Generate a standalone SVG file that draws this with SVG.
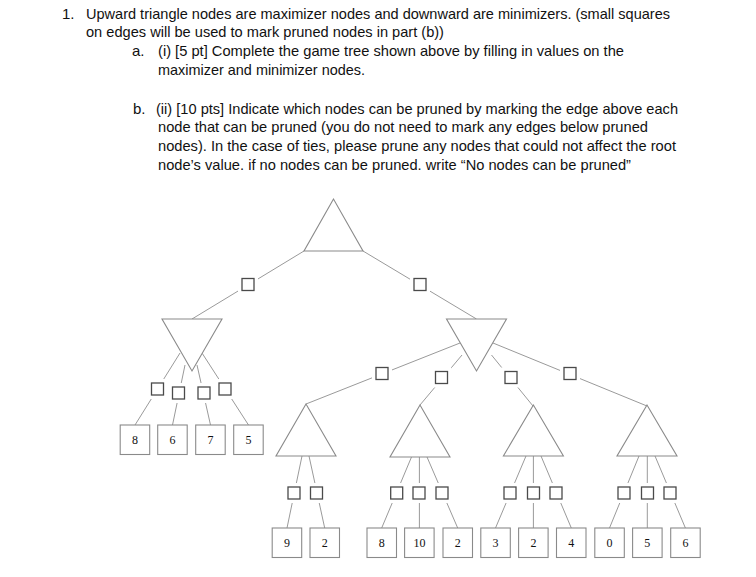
<svg xmlns="http://www.w3.org/2000/svg" width="756" height="577" viewBox="0 0 756 577">
<style>
.t{font-family:"Liberation Sans","Open Sans",sans-serif;font-size:15px;fill:#111}
.tri{fill:#fff;stroke:#8a8a8a;stroke-width:1.1}
.leaf rect{fill:#fff;stroke:#8a8a8a;stroke-width:1.1}
.leaf text{font-family:"Liberation Serif","DejaVu Serif",serif;font-size:12px;fill:#111;text-anchor:middle}
.e{stroke:#9a9a9a;stroke-width:1;fill:none}
.halo{fill:#fff;stroke:none}
.mk{fill:#fff;stroke:#4a4a4a;stroke-width:1.3}
</style>
<rect width="756" height="577" fill="#fff"/>
<g id="question">
<text class="t" x="62" y="18.5">1.</text>
<text class="t" x="86" y="18.5" textLength="584" lengthAdjust="spacingAndGlyphs">Upward triangle nodes are maximizer nodes and downward are minimizers. (small squares</text>
<text class="t" x="86" y="37" textLength="358" lengthAdjust="spacingAndGlyphs">on edges will be used to mark pruned nodes in part (b))</text>
<text class="t" x="132" y="56">a.</text>
<text class="t" x="158" y="56" textLength="466" lengthAdjust="spacingAndGlyphs">(i) [5 pt] Complete the game tree shown above by filling in values on the</text>
<text class="t" x="158" y="74.5" textLength="207" lengthAdjust="spacingAndGlyphs">maximizer and minimizer nodes.</text>
<text class="t" x="133" y="113.5">b.</text>
<text class="t" x="156" y="113.5" textLength="522" lengthAdjust="spacingAndGlyphs">(ii) [10 pts] Indicate which nodes can be pruned by marking the edge above each</text>
<text class="t" x="158" y="132" textLength="490" lengthAdjust="spacingAndGlyphs">node that can be pruned (you do not need to mark any edges below pruned</text>
<text class="t" x="158" y="151" textLength="518" lengthAdjust="spacingAndGlyphs">nodes). In the case of ties, please prune any nodes that could not affect the root</text>
<text class="t" x="158" y="169.5" textLength="473" lengthAdjust="spacingAndGlyphs">node’s value. if no nodes can be pruned. write “No nodes can be pruned”</text>
</g>
<g id="connectors">
<line class="e" x1="304" y1="251" x2="192" y2="319"/>
<line class="e" x1="363" y1="251" x2="476.5" y2="319"/>
<line class="e" x1="180" y1="353" x2="135" y2="425"/>
<line class="e" x1="185" y1="365" x2="172.5" y2="425"/>
<line class="e" x1="197" y1="365" x2="210.5" y2="425"/>
<line class="e" x1="202" y1="353" x2="248.5" y2="425"/>
<line class="e" x1="460" y1="343" x2="306" y2="404"/>
<line class="e" x1="462" y1="355" x2="420" y2="405"/>
<line class="e" x1="491.5" y1="355" x2="533" y2="406"/>
<line class="e" x1="493" y1="343" x2="647" y2="406"/>
<line class="e" x1="302" y1="456" x2="287" y2="528"/>
<line class="e" x1="309" y1="456" x2="324.7" y2="528"/>
<line class="e" x1="411.5" y1="457" x2="381.7" y2="528"/>
<line class="e" x1="419.4" y1="457" x2="419.4" y2="528"/>
<line class="e" x1="427" y1="457" x2="457.7" y2="528"/>
<line class="e" x1="526" y1="456" x2="495.5" y2="528"/>
<line class="e" x1="533.4" y1="456" x2="533.4" y2="528"/>
<line class="e" x1="541" y1="456" x2="571.3" y2="528"/>
<line class="e" x1="639" y1="456" x2="609.5" y2="528"/>
<line class="e" x1="647.3" y1="456" x2="647.3" y2="528"/>
<line class="e" x1="655" y1="456" x2="685.4" y2="528"/>
</g>
<g id="prune-markers">
<g class="halo">
<rect x="238" y="274.5" width="20" height="20"/>
<rect x="410" y="274.5" width="20" height="20"/>
<rect x="147.5" y="379" width="20" height="20"/>
<rect x="168.5" y="383" width="20" height="20"/>
<rect x="194" y="383" width="20" height="20"/>
<rect x="215" y="379" width="20" height="20"/>
<rect x="372" y="363.5" width="20" height="20"/>
<rect x="431.5" y="367.5" width="20" height="20"/>
<rect x="501" y="367.5" width="20" height="20"/>
<rect x="560" y="363.5" width="20" height="20"/>
<rect x="284" y="483" width="20" height="20"/>
<rect x="306.5" y="483" width="20" height="20"/>
<rect x="386.7" y="483" width="20" height="20"/>
<rect x="409" y="483" width="20" height="20"/>
<rect x="432" y="483" width="20" height="20"/>
<rect x="500" y="483" width="20" height="20"/>
<rect x="523.5" y="483" width="20" height="20"/>
<rect x="546" y="483" width="20" height="20"/>
<rect x="614" y="483" width="20" height="20"/>
<rect x="637.5" y="483" width="20" height="20"/>
<rect x="660" y="483" width="20" height="20"/>
</g>
<g class="mk">
<rect x="242" y="278.5" width="12" height="12"/>
<rect x="414" y="278.5" width="12" height="12"/>
<rect x="151.5" y="383" width="12" height="12"/>
<rect x="172.5" y="387" width="12" height="12"/>
<rect x="198" y="387" width="12" height="12"/>
<rect x="219" y="383" width="12" height="12"/>
<rect x="376" y="367.5" width="12" height="12"/>
<rect x="435.5" y="371.5" width="12" height="12"/>
<rect x="505" y="371.5" width="12" height="12"/>
<rect x="564" y="367.5" width="12" height="12"/>
<rect x="288" y="487" width="12" height="12"/>
<rect x="310.5" y="487" width="12" height="12"/>
<rect x="390.7" y="487" width="12" height="12"/>
<rect x="413" y="487" width="12" height="12"/>
<rect x="436" y="487" width="12" height="12"/>
<rect x="504" y="487" width="12" height="12"/>
<rect x="527.5" y="487" width="12" height="12"/>
<rect x="550" y="487" width="12" height="12"/>
<rect x="618" y="487" width="12" height="12"/>
<rect x="641.5" y="487" width="12" height="12"/>
<rect x="664" y="487" width="12" height="12"/>
</g>
</g>
<g id="root-max"><polygon class="tri" points="333.5,199 304,251 363,251"/></g>
<g id="min-left"><polygon class="tri" points="162,319 222,319 192,371"/></g>
<g id="min-right"><polygon class="tri" points="446.5,319 506.5,319 476.5,371"/></g>
<g id="max-1"><polygon class="tri" points="306,404 276,456 336,456"/></g>
<g id="max-2"><polygon class="tri" points="420,405 390,457 450,457"/></g>
<g id="max-3"><polygon class="tri" points="533.4,405 503.4,456 563.4,456"/></g>
<g id="max-4"><polygon class="tri" points="647,405 617,456 677,456"/></g>
<g id="leaf-8a" class="leaf"><rect x="120.2" y="425" width="29.5" height="29.5"/><text x="135" y="444">8</text></g>
<g id="leaf-6" class="leaf"><rect x="157.7" y="425" width="29.5" height="29.5"/><text x="172.5" y="444">6</text></g>
<g id="leaf-7" class="leaf"><rect x="195.7" y="425" width="29.5" height="29.5"/><text x="210.5" y="444">7</text></g>
<g id="leaf-5a" class="leaf"><rect x="233.7" y="425" width="29.5" height="29.5"/><text x="248.5" y="444">5</text></g>
<g id="leaf-9" class="leaf"><rect x="272.2" y="528" width="29.5" height="29.5"/><text x="287" y="547">9</text></g>
<g id="leaf-2a" class="leaf"><rect x="310" y="528" width="29.5" height="29.5"/><text x="324.7" y="547">2</text></g>
<g id="leaf-8b" class="leaf"><rect x="367" y="528" width="29.5" height="29.5"/><text x="381.7" y="547">8</text></g>
<g id="leaf-10" class="leaf"><rect x="404.6" y="528" width="29.5" height="29.5"/><text x="419.4" y="547">10</text></g>
<g id="leaf-2b" class="leaf"><rect x="443" y="528" width="29.5" height="29.5"/><text x="457.7" y="547">2</text></g>
<g id="leaf-3" class="leaf"><rect x="480.8" y="528" width="29.5" height="29.5"/><text x="495.5" y="547">3</text></g>
<g id="leaf-2c" class="leaf"><rect x="518.6" y="528" width="29.5" height="29.5"/><text x="533.4" y="547">2</text></g>
<g id="leaf-4" class="leaf"><rect x="556.5" y="528" width="29.5" height="29.5"/><text x="571.3" y="547">4</text></g>
<g id="leaf-0" class="leaf"><rect x="594.8" y="528" width="29.5" height="29.5"/><text x="609.5" y="547">0</text></g>
<g id="leaf-5b" class="leaf"><rect x="632.6" y="528" width="29.5" height="29.5"/><text x="647.3" y="547">5</text></g>
<g id="leaf-6b" class="leaf"><rect x="670.7" y="528" width="29.5" height="29.5"/><text x="685.4" y="547">6</text></g>
</svg>
